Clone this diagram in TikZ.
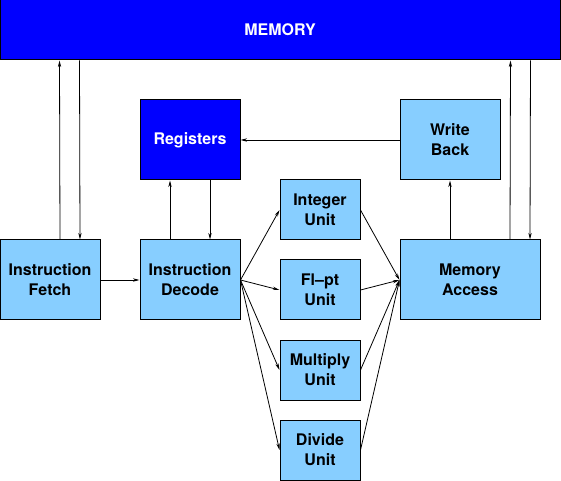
\documentclass[tikz,border=0pt]{standalone}
\usepackage{fontspec}
\setmainfont{TeX Gyre Heros}
\usetikzlibrary{arrows.meta}
\definecolor{ltblue}{HTML}{87CEFF}

\begin{document}
\begin{tikzpicture}[x=0.75pt,y=-0.75pt,
    box/.style={draw,line width=0.75pt,fill=ltblue,align=center,inner sep=0pt,
      font=\fontsize{12}{15}\selectfont\bfseries},
    bigbox/.style={box,minimum width=75pt,minimum height=60pt},
    unitbox/.style={box,minimum width=60pt,minimum height=45pt},
    darkbox/.style={bigbox,fill=blue,text=white},
    link/.style={line width=0.6pt,-{Stealth[length=5pt,width=2.5pt]}}]
        \useasboundingbox (0,0) rectangle (561,481);

        % boxes
        \node[darkbox,minimum width=420pt,minimum height=45pt](mem)at(280,30){MEMORY};
        \node[darkbox](regs)at(190,140){Registers};
        \node[bigbox](wb)at(450,140){Write\\Back};
        \node[bigbox](fetch)at(50,280){Instruction\\Fetch};
        \node[bigbox](decode)at(190,280){Instruction\\Decode};
        \node[unitbox](intu)at(320,210){Integer\\Unit};
        \node[unitbox](fpu)at(320,290){Fl--pt\\Unit};
        \node[unitbox](mulu)at(320,370){Multiply\\Unit};
        \node[unitbox](divu)at(320,450){Divide\\Unit};
        \node[bigbox,minimum width=105pt](macc)at(470,280){Memory\\Access};

        % memory traffic
        \draw[link]([xshift=7.5pt]fetch.north)--([xshift=45pt]mem.south west);
        \draw[link]([xshift=60pt]mem.south west)--([xshift=22.5pt]fetch.north);
        \draw[link]([xshift=30pt]macc.north)--([xshift=-37.5pt]mem.south east);
        \draw[link]([xshift=-22.5pt]mem.south east)--([xshift=45pt]macc.north);

        % registers
        \draw[link]([xshift=-15pt]decode.north)--([xshift=-15pt]regs.south);
        \draw[link]([xshift=15pt]regs.south)--([xshift=15pt]decode.north);
        \draw[link](wb.west)--(regs.east);
        \draw[link](fetch.east)--(decode.west);
        \draw[link]([xshift=-15pt]macc.north)--(wb.south);

        % execution units
        \foreach \u in {intu,fpu,mulu,divu}{
            \draw[link](decode.east)--(\u.west);
            \draw[link](\u.east)--(macc.west);
        }
    \end{tikzpicture}
\end{document}
